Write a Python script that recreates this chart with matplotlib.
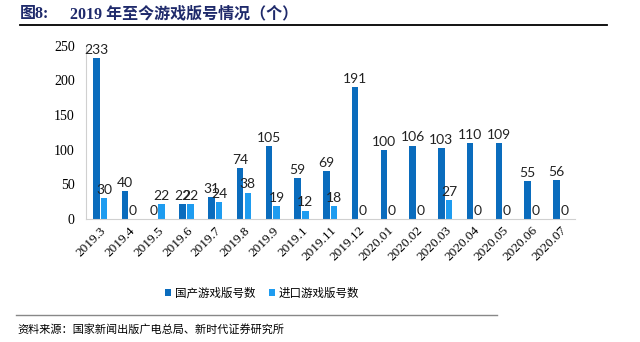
import numpy as np
import matplotlib
matplotlib.use("Agg")
import matplotlib.pyplot as plt
from matplotlib.lines import Line2D

plt.rcParams['font.family'] = ['Noto Sans CJK SC', 'DejaVu Sans']

# data
months = ['2019.3', '2019.4', '2019.5', '2019.6', '2019.7', '2019.8', '2019.9',
          '2019.1', '2019.11', '2019.12', '2020.01', '2020.02', '2020.03',
          '2020.04', '2020.05', '2020.06', '2020.07']
domestic = [233, 40, 0, 22, 31, 74, 105, 59, 69, 191, 100, 106, 103, 110, 109, 55, 56]
imported = [30, 0, 22, 22, 24, 38, 19, 12, 18, 0, 0, 0, 27, 0, 0, 0, 0]
series_names = ['国产游戏版号数', '进口游戏版号数']

c_dom = '#0a6cbd'
c_imp = '#1e9cf0'

fig = plt.figure(figsize=(6.4, 3.42), dpi=100)
ax = fig.add_axes([0.134, 0.360, 0.764, 0.506])

x = np.arange(len(months))
w = 0.23
b1 = ax.bar(x - 0.135, domestic, w, color=c_dom, label=series_names[0])
b2 = ax.bar(x + 0.135, imported, w, color=c_imp, label=series_names[1])

for bars, vals in ((b1, domestic), (b2, imported)):
    for r, v in zip(bars, vals):
        ax.text(r.get_x() + r.get_width() / 2, v + 3, str(v), ha='center',
                va='bottom', fontsize=10, family='Lato', color='#222222',
                clip_on=False)

ax.set_xlim(-0.5, len(months) - 0.5)
ax.set_ylim(0, 250)
ax.set_yticks(range(0, 251, 50))
ax.set_yticklabels([str(v) for v in range(0, 251, 50)],
                   family='Liberation Serif', fontsize=10)
ax.set_xticks(x)
ax.set_xticklabels(months, rotation=45, ha='right', rotation_mode='anchor',
                   family='Liberation Serif', fontsize=9.5)
ax.tick_params(length=0)
ax.tick_params(axis='y', pad=8)
ax.tick_params(axis='x', pad=4)
for s in ('top', 'right'):
    ax.spines[s].set_visible(False)
ax.spines['left'].set_color('#d0d0d0')
ax.spines['bottom'].set_color('#d0d0d0')

ax.legend(loc='center', bbox_to_anchor=(262 / 640, 1 - 293 / 342),
          bbox_transform=fig.transFigure, ncol=2, frameon=False, fontsize=8.3,
          handlelength=0.5, handleheight=0.5, handletextpad=0.3,
          columnspacing=1.2)

# title and source
fig.text(20 / 640, 1 - 14 / 342, '图8:', fontsize=11.5, fontweight='bold',
         color='#1f2a6b', va='center', family=['Liberation Serif', 'Noto Sans CJK SC'])
fig.text(70 / 640, 1 - 14 / 342, '2019 年至今游戏版号情况（个）', fontsize=11.5,
         fontweight='bold', color='#1f2a6b', va='center',
         family=['Liberation Serif', 'Noto Sans CJK SC'])
fig.add_artist(Line2D([20 / 640, 607 / 640], [1 - 25 / 342, 1 - 25 / 342],
                      color='black', lw=1.3))
fig.add_artist(Line2D([16 / 640, 497 / 640], [1 - 315 / 342, 1 - 315 / 342],
                      color='#888888', lw=1.0))
fig.text(17 / 640, 1 - 329 / 342, '资料来源：国家新闻出版广电总局、新时代证券研究所',
         fontsize=8, va='center', color='black')

fig.savefig('out.png', dpi=100)
